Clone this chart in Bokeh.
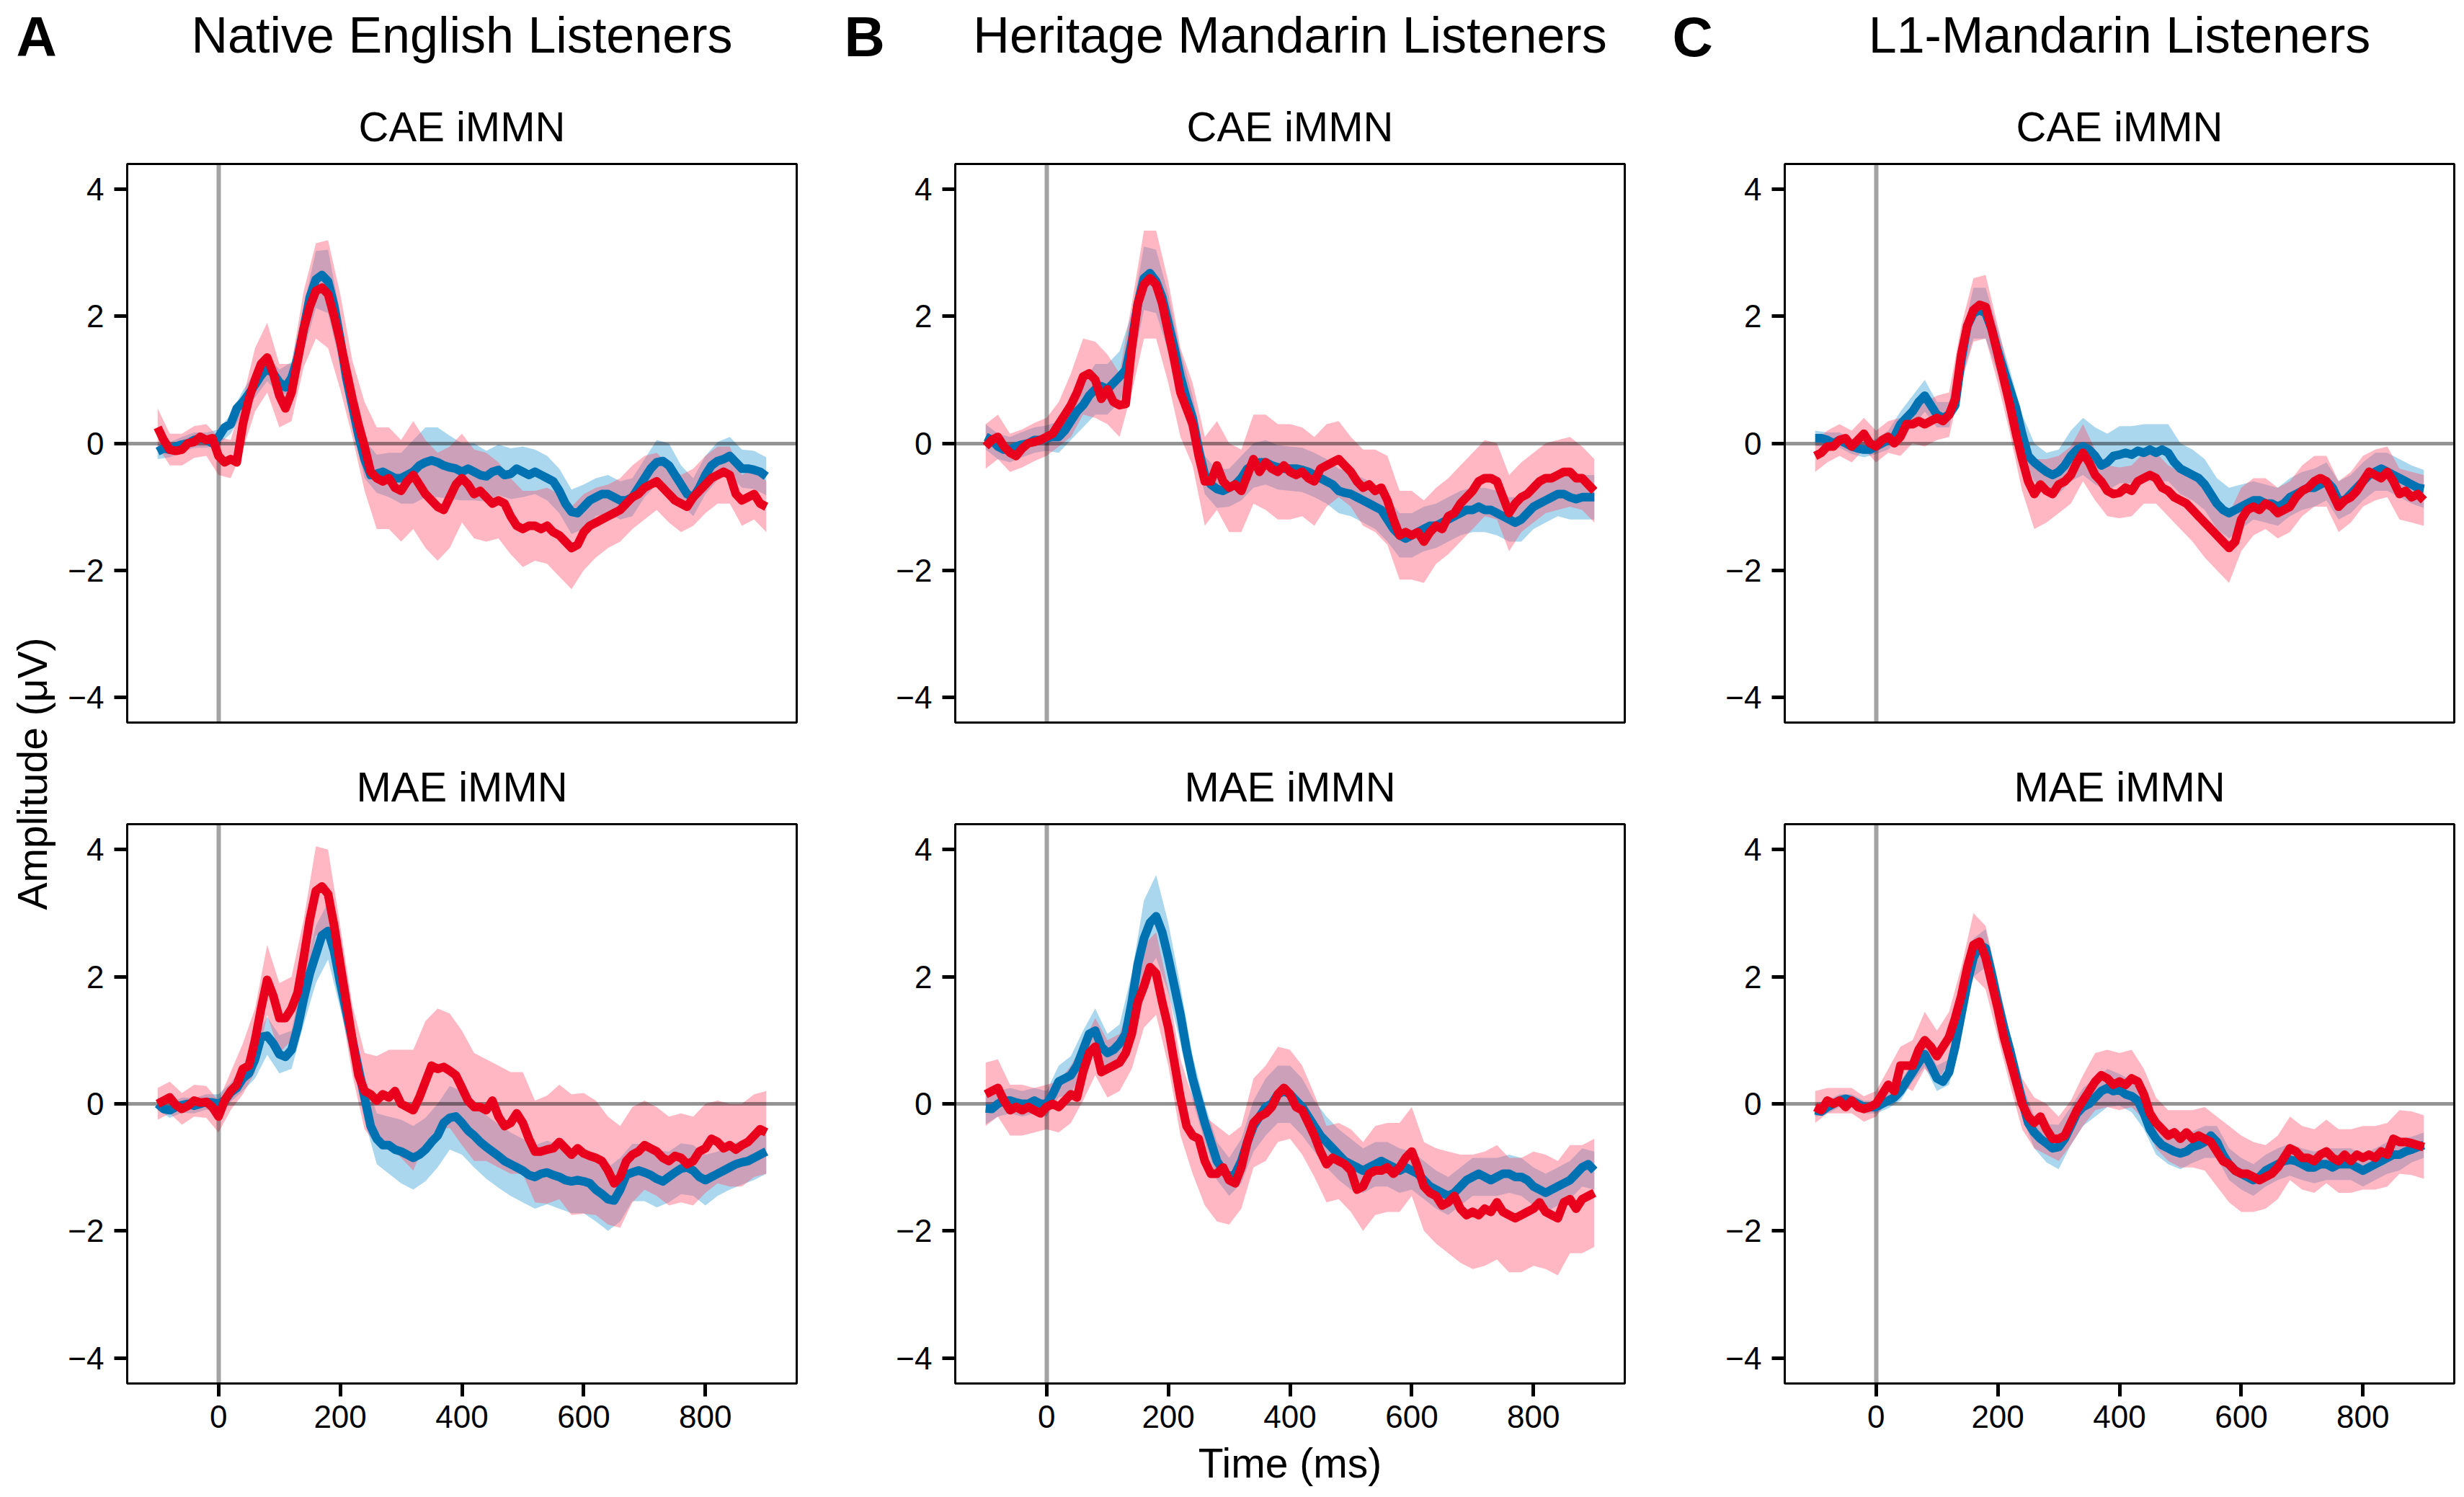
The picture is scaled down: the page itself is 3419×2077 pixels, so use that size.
import math
from bokeh.plotting import figure
from bokeh.models import Range1d, FixedTicker, CustomJSTickFormatter
from bokeh.layouts import row, column
from bokeh.core.properties import value
from bokeh.embed import file_html
from bokeh.resources import INLINE

# ---------------------------------------------------------------- data
# Grand-average iMMN difference waves (µV), sampled every 10 ms
TIME = list(range(-100, 901, 10))
# standard errors, sampled every 20 ms
TIME_SE = list(range(-100, 901, 20))

GROUPS = ["Native English Listeners", "Heritage Mandarin Listeners", "L1-Mandarin Listeners"]
LETTERS = ["A", "B", "C"]
CONDITIONS = ["CAE iMMN", "MAE iMMN"]
X_TICKS = [0, 200, 400, 600, 800]
Y_TICKS = [-4, -2, 0, 2, 4]

# Native English, CAE
eng_cae_blue = [
    -0.13, -0.08, -0.1, -0.05, -0.02, 0.0, 0.05, 0.08, 0.05, 0.0,
    0.1, 0.25, 0.3, 0.55, 0.65, 0.78, 0.92, 1.07, 1.18, 1.1,
    0.96, 0.88, 1.03, 1.34, 1.8, 2.3, 2.58, 2.65, 2.55, 2.17,
    1.64, 1.03, 0.58, 0.13, -0.25, -0.5, -0.48, -0.45, -0.5, -0.55,
    -0.55, -0.5, -0.45, -0.35, -0.3, -0.27, -0.3, -0.35, -0.38, -0.4,
    -0.45, -0.4, -0.45, -0.5, -0.52, -0.45, -0.42, -0.5, -0.48, -0.4,
    -0.45, -0.5, -0.45, -0.5, -0.55, -0.6, -0.75, -0.95, -1.08, -1.1,
    -1.0, -0.9, -0.85, -0.8, -0.8, -0.85, -0.9, -0.9, -0.85, -0.7,
    -0.55, -0.4, -0.3, -0.28, -0.35, -0.5, -0.65, -0.8, -0.85, -0.7,
    -0.5, -0.35, -0.28, -0.25, -0.2, -0.3, -0.4, -0.4, -0.42, -0.45,
    -0.52]
eng_cae_blue_se = [
    0.12, 0.12, 0.12, 0.12, 0.12, 0.12, 0.15, 0.18, 0.2, 0.2,
    0.2, 0.25, 0.35, 0.45, 0.5, 0.4, 0.35, 0.3, 0.3, 0.35,
    0.4, 0.5, 0.55, 0.55, 0.5, 0.45, 0.45, 0.4, 0.4, 0.4,
    0.4, 0.35, 0.35, 0.35, 0.35, 0.35, 0.3, 0.3, 0.3, 0.3,
    0.3, 0.35, 0.35, 0.3, 0.3, 0.3, 0.3, 0.3, 0.3, 0.3,
    0.3]
eng_cae_red = [
    0.25, 0.05, -0.1, -0.12, -0.1, 0.0, 0.02, 0.1, 0.05, 0.08,
    -0.2, -0.3, -0.25, -0.3, 0.3, 0.7, 1.0, 1.25, 1.35, 1.1,
    0.75, 0.55, 0.8, 1.3, 1.8, 2.15, 2.4, 2.45, 2.35, 2.0,
    1.6, 1.15, 0.7, 0.3, -0.05, -0.45, -0.55, -0.6, -0.55, -0.7,
    -0.75, -0.6, -0.5, -0.65, -0.8, -0.9, -1.0, -1.05, -0.85, -0.65,
    -0.55, -0.65, -0.8, -0.75, -0.85, -0.95, -0.9, -0.95, -1.15, -1.3,
    -1.35, -1.3, -1.3, -1.35, -1.3, -1.4, -1.45, -1.55, -1.65, -1.6,
    -1.4, -1.3, -1.25, -1.2, -1.15, -1.1, -1.05, -0.95, -0.85, -0.8,
    -0.7, -0.65, -0.6, -0.7, -0.8, -0.9, -0.95, -1.0, -0.85, -0.75,
    -0.65, -0.55, -0.5, -0.45, -0.5, -0.8, -0.9, -0.85, -0.8, -0.95,
    -1.0]
eng_cae_red_se = [
    0.3, 0.25, 0.25, 0.25, 0.25, 0.3, 0.3, 0.4, 0.5, 0.55,
    0.5, 0.45, 0.6, 0.75, 0.85, 0.75, 0.6, 0.7, 0.8, 0.8,
    0.8, 0.85, 0.85, 0.85, 0.8, 0.7, 0.7, 0.7, 0.6, 0.6,
    0.6, 0.55, 0.6, 0.65, 0.65, 0.6, 0.55, 0.5, 0.5, 0.5,
    0.5, 0.45, 0.45, 0.45, 0.45, 0.45, 0.45, 0.45, 0.4, 0.4,
    0.4]

# Native English, MAE
eng_mae_blue = [
    0.0, -0.08, -0.1, -0.05, -0.02, 0.0, -0.03, 0.0, 0.03, 0.02,
    0.0, 0.05, 0.18, 0.25, 0.4, 0.48, 0.7, 1.05, 1.07, 0.95,
    0.78, 0.74, 0.85, 1.2, 1.65, 2.05, 2.35, 2.65, 2.72, 2.4,
    1.9, 1.45, 1.0, 0.55, 0.1, -0.35, -0.55, -0.65, -0.65, -0.72,
    -0.75, -0.8, -0.85, -0.8, -0.72, -0.6, -0.5, -0.3, -0.22, -0.2,
    -0.3, -0.42, -0.5, -0.6, -0.68, -0.75, -0.82, -0.9, -0.95, -1.0,
    -1.05, -1.12, -1.15, -1.1, -1.08, -1.12, -1.15, -1.2, -1.22, -1.2,
    -1.22, -1.25, -1.35, -1.42, -1.5, -1.52, -1.35, -1.12, -1.08, -1.05,
    -1.08, -1.12, -1.18, -1.22, -1.15, -1.08, -1.02, -1.0, -1.05, -1.15,
    -1.2, -1.15, -1.1, -1.05, -1.0, -0.95, -0.92, -0.9, -0.85, -0.8,
    -0.75]
eng_mae_blue_se = [
    0.1, 0.12, 0.12, 0.12, 0.12, 0.15, 0.15, 0.2, 0.3, 0.3,
    0.3, 0.3, 0.4, 0.45, 0.45, 0.4, 0.35, 0.35, 0.4, 0.45,
    0.5, 0.5, 0.5, 0.5, 0.5, 0.5, 0.5, 0.5, 0.5, 0.5,
    0.5, 0.5, 0.5, 0.5, 0.5, 0.5, 0.5, 0.5, 0.5, 0.45,
    0.45, 0.45, 0.4, 0.4, 0.4, 0.4, 0.35, 0.35, 0.35, 0.35,
    0.35]
eng_mae_red = [
    0.0, 0.05, 0.1, -0.02, -0.08, -0.03, 0.05, 0.02, 0.03, -0.05,
    -0.2, 0.05, 0.2, 0.3, 0.55, 0.6, 1.0, 1.5, 1.95, 1.7,
    1.35, 1.35, 1.5, 1.75, 2.3, 2.9, 3.35, 3.42, 3.3, 2.8,
    2.2, 1.6, 1.0, 0.45, 0.2, 0.15, 0.05, 0.15, 0.1, 0.2,
    0.0, -0.05, -0.1, 0.1, 0.35, 0.6, 0.55, 0.58, 0.52, 0.45,
    0.25, 0.05, -0.05, -0.05, -0.1, 0.05, -0.2, -0.35, -0.3, -0.15,
    -0.3, -0.55, -0.75, -0.75, -0.72, -0.7, -0.6, -0.7, -0.8, -0.7,
    -0.78, -0.82, -0.85, -0.9, -1.05, -1.25, -1.15, -0.9, -0.8, -0.75,
    -0.65, -0.7, -0.75, -0.85, -0.9, -0.82, -0.85, -0.95, -0.9, -0.75,
    -0.7, -0.55, -0.6, -0.7, -0.65, -0.72, -0.65, -0.6, -0.5, -0.4,
    -0.45]
eng_mae_red_se = [
    0.25, 0.25, 0.25, 0.25, 0.25, 0.25, 0.3, 0.4, 0.5, 0.55,
    0.55, 0.5, 0.6, 0.7, 0.7, 0.6, 0.55, 0.6, 0.7, 0.75,
    0.85, 0.95, 0.95, 0.95, 0.9, 0.9, 0.85, 0.8, 0.8, 0.8,
    0.8, 0.8, 0.85, 0.9, 0.95, 0.95, 0.9, 0.85, 0.8, 0.75,
    0.7, 0.7, 0.7, 0.7, 0.7, 0.7, 0.65, 0.65, 0.65, 0.65,
    0.65]

# Heritage Mandarin, CAE
her_cae_blue = [
    0.1, 0.05, -0.05, -0.1, -0.1, -0.05, -0.02, 0.0, 0.05, 0.05,
    0.08, 0.1, 0.1, 0.2, 0.35, 0.5, 0.6, 0.75, 0.85, 0.9,
    0.85, 0.95, 1.05, 1.15, 1.6, 2.2, 2.6, 2.68, 2.55, 2.3,
    1.9, 1.5, 1.05, 0.7, 0.4, -0.1, -0.5, -0.65, -0.72, -0.75,
    -0.7, -0.65, -0.55, -0.4, -0.35, -0.3, -0.3, -0.35, -0.38, -0.4,
    -0.4, -0.4, -0.42, -0.45, -0.5, -0.55, -0.6, -0.65, -0.75, -0.78,
    -0.8, -0.85, -0.9, -0.95, -1.0, -1.05, -1.2, -1.35, -1.45, -1.5,
    -1.45, -1.4, -1.35, -1.3, -1.3, -1.25, -1.2, -1.15, -1.1, -1.05,
    -1.05, -1.0, -1.05, -1.05, -1.1, -1.15, -1.2, -1.25, -1.2, -1.1,
    -1.0, -0.95, -0.9, -0.85, -0.8, -0.8, -0.85, -0.88, -0.85, -0.85,
    -0.85]
her_cae_blue_se = [
    0.2, 0.2, 0.2, 0.2, 0.2, 0.2, 0.25, 0.3, 0.35, 0.4,
    0.4, 0.4, 0.45, 0.5, 0.5, 0.45, 0.4, 0.35, 0.3, 0.3,
    0.3, 0.35, 0.35, 0.35, 0.35, 0.35, 0.35, 0.35, 0.35, 0.35,
    0.35, 0.35, 0.35, 0.35, 0.35, 0.35, 0.35, 0.35, 0.35, 0.35,
    0.35, 0.35, 0.35, 0.35, 0.35, 0.35, 0.35, 0.35, 0.35, 0.35,
    0.35]
her_cae_red = [
    -0.05, 0.05, 0.1, -0.05, -0.15, -0.2, -0.08, 0.0, 0.02, 0.05,
    0.1, 0.15, 0.3, 0.45, 0.6, 0.8, 1.05, 1.1, 1.0, 0.7,
    0.85, 0.65, 0.6, 0.62, 1.5, 2.2, 2.5, 2.6, 2.5, 2.2,
    1.75, 1.3, 0.8, 0.55, 0.3, -0.2, -0.6, -0.6, -0.35, -0.6,
    -0.7, -0.65, -0.75, -0.5, -0.25, -0.45, -0.3, -0.4, -0.45, -0.35,
    -0.45, -0.5, -0.45, -0.55, -0.6, -0.4, -0.35, -0.3, -0.25, -0.35,
    -0.45, -0.6, -0.7, -0.65, -0.75, -0.7, -0.9, -1.2, -1.45, -1.4,
    -1.45, -1.4, -1.55, -1.4, -1.3, -1.35, -1.15, -1.1, -0.95, -0.85,
    -0.75, -0.6, -0.55, -0.55, -0.6, -0.85, -1.1, -0.95, -0.85, -0.8,
    -0.7, -0.6, -0.55, -0.55, -0.5, -0.45, -0.45, -0.55, -0.55, -0.65,
    -0.75]
her_cae_red_se = [
    0.35, 0.35, 0.3, 0.3, 0.3, 0.3, 0.35, 0.5, 0.6, 0.6,
    0.55, 0.5, 0.7, 0.85, 0.85, 0.8, 0.7, 0.65, 0.7, 0.7,
    0.7, 0.65, 0.7, 0.75, 0.75, 0.75, 0.7, 0.7, 0.65, 0.6,
    0.55, 0.6, 0.65, 0.7, 0.7, 0.7, 0.65, 0.6, 0.6, 0.6,
    0.6, 0.6, 0.6, 0.6, 0.55, 0.55, 0.55, 0.55, 0.55, 0.5,
    0.5]

# Heritage Mandarin, MAE
her_mae_blue = [
    -0.07, -0.08, 0.0, 0.05, 0.05, 0.02, 0.0, 0.0, 0.05, 0.0,
    0.0, 0.15, 0.35, 0.4, 0.45, 0.6, 0.85, 1.1, 1.15, 0.9,
    0.8, 0.85, 0.95, 1.1, 1.6, 2.2, 2.6, 2.85, 2.95, 2.7,
    2.3, 1.85, 1.4, 0.85, 0.4, 0.05, -0.3, -0.6, -0.9, -1.05,
    -1.15, -1.1, -0.9, -0.6, -0.35, -0.2, -0.05, 0.0, 0.15, 0.2,
    0.15, 0.05, -0.05, -0.2, -0.35, -0.5, -0.6, -0.7, -0.8, -0.9,
    -0.95, -1.0, -1.05, -1.0, -0.95, -0.9, -0.95, -1.0, -1.05, -1.0,
    -1.05, -1.1, -1.2, -1.3, -1.35, -1.4, -1.45, -1.4, -1.3, -1.2,
    -1.15, -1.1, -1.15, -1.2, -1.15, -1.1, -1.1, -1.15, -1.15, -1.2,
    -1.3, -1.35, -1.4, -1.35, -1.3, -1.25, -1.2, -1.1, -1.0, -0.95,
    -1.05]
her_mae_blue_se = [
    0.25, 0.2, 0.2, 0.2, 0.2, 0.2, 0.25, 0.3, 0.3, 0.35,
    0.3, 0.3, 0.45, 0.6, 0.65, 0.55, 0.45, 0.35, 0.3, 0.3,
    0.3, 0.35, 0.4, 0.45, 0.45, 0.45, 0.45, 0.4, 0.4, 0.4,
    0.4, 0.35, 0.35, 0.35, 0.35, 0.3, 0.3, 0.3, 0.3, 0.3,
    0.3, 0.3, 0.3, 0.3, 0.3, 0.3, 0.3, 0.3, 0.3, 0.3,
    0.3]
her_mae_red = [
    0.15, 0.2, 0.25, 0.05, -0.1, -0.05, -0.1, -0.05, -0.1, -0.15,
    -0.05, 0.0, -0.05, 0.05, 0.15, 0.1, 0.5, 0.8, 0.9, 0.5,
    0.55, 0.6, 0.65, 0.8, 1.1, 1.6, 1.85, 2.15, 2.05, 1.6,
    1.2, 0.65, 0.1, -0.35, -0.5, -0.55, -0.9, -1.1, -1.1, -1.0,
    -1.2, -1.25, -1.0, -0.6, -0.3, -0.2, -0.15, -0.05, 0.15, 0.25,
    0.15, -0.05, -0.1, -0.3, -0.5, -0.75, -0.95, -0.85, -0.9, -0.95,
    -1.05, -1.35, -1.3, -1.1, -1.05, -1.05, -1.0, -1.1, -1.0, -0.85,
    -0.75, -1.0, -1.3, -1.4, -1.45, -1.6, -1.55, -1.45, -1.65, -1.75,
    -1.7, -1.75, -1.65, -1.7, -1.55, -1.7, -1.75, -1.8, -1.75, -1.7,
    -1.65, -1.55, -1.7, -1.75, -1.8, -1.55, -1.5, -1.65, -1.5, -1.45,
    -1.4]
her_mae_red_se = [
    0.5, 0.45, 0.4, 0.4, 0.35, 0.35, 0.4, 0.45, 0.45, 0.45,
    0.45, 0.45, 0.55, 0.65, 0.65, 0.6, 0.6, 0.6, 0.7, 0.75,
    0.7, 0.65, 0.7, 0.75, 0.75, 0.7, 0.7, 0.65, 0.6, 0.6,
    0.65, 0.7, 0.7, 0.7, 0.7, 0.7, 0.7, 0.75, 0.8, 0.85,
    0.9, 0.9, 0.9, 0.9, 0.9, 0.9, 0.9, 0.9, 0.85, 0.85,
    0.85]

# L1 Mandarin, CAE
l1_cae_blue = [
    0.08, 0.08, 0.05, 0.0, 0.05, 0.0, -0.05, -0.08, -0.1, -0.1,
    -0.05, 0.0, 0.05, 0.1, 0.3, 0.4, 0.5, 0.65, 0.75, 0.6,
    0.45, 0.4, 0.45, 0.6, 1.3, 1.85, 2.05, 2.1, 2.05, 1.8,
    1.45, 1.15, 0.85, 0.55, 0.15, -0.2, -0.3, -0.38, -0.45, -0.5,
    -0.45, -0.35, -0.2, -0.1, -0.05, -0.1, -0.2, -0.35, -0.3, -0.2,
    -0.18, -0.15, -0.18, -0.12, -0.15, -0.1, -0.15, -0.1, -0.15, -0.3,
    -0.4, -0.45, -0.5, -0.55, -0.65, -0.8, -0.95, -1.05, -1.1, -1.05,
    -1.0, -0.95, -0.9, -0.9, -0.95, -0.95, -1.0, -0.95, -0.85, -0.8,
    -0.75, -0.7, -0.7, -0.65, -0.6, -0.7, -0.9, -0.9, -0.8, -0.7,
    -0.6, -0.5, -0.45, -0.4, -0.45, -0.5, -0.55, -0.6, -0.65, -0.7,
    -0.72]
l1_cae_blue_se = [
    0.12, 0.12, 0.12, 0.12, 0.12, 0.12, 0.15, 0.2, 0.25, 0.25,
    0.2, 0.2, 0.3, 0.4, 0.4, 0.35, 0.3, 0.3, 0.3, 0.3,
    0.35, 0.4, 0.45, 0.45, 0.45, 0.45, 0.45, 0.45, 0.45, 0.45,
    0.4, 0.4, 0.4, 0.4, 0.4, 0.35, 0.3, 0.3, 0.3, 0.3,
    0.3, 0.3, 0.3, 0.3, 0.3, 0.3, 0.3, 0.3, 0.3, 0.3,
    0.3]
l1_cae_red = [
    -0.2, -0.15, -0.05, -0.05, 0.05, 0.08, -0.05, 0.05, 0.15, 0.0,
    -0.05, 0.05, 0.1, 0.0, 0.1, 0.3, 0.3, 0.35, 0.3, 0.35,
    0.4, 0.35, 0.45, 0.7, 1.4, 1.85, 2.1, 2.18, 2.15, 1.8,
    1.4, 1.0, 0.6, 0.15, -0.25, -0.6, -0.8, -0.65, -0.75, -0.8,
    -0.65, -0.6, -0.5, -0.3, -0.15, -0.3, -0.5, -0.6, -0.75, -0.8,
    -0.78, -0.7, -0.75, -0.6, -0.55, -0.5, -0.55, -0.7, -0.75, -0.85,
    -0.9, -0.95, -1.05, -1.15, -1.25, -1.35, -1.45, -1.55, -1.65, -1.55,
    -1.2, -1.05, -1.0, -1.05, -0.95, -1.0, -1.1, -1.05, -1.0, -0.85,
    -0.75, -0.7, -0.6, -0.55, -0.6, -0.8, -1.0, -0.9, -0.85, -0.75,
    -0.6, -0.45, -0.5, -0.55, -0.45, -0.6, -0.8, -0.75, -0.85, -0.8,
    -0.9]
l1_cae_red_se = [
    0.25, 0.25, 0.25, 0.25, 0.25, 0.25, 0.25, 0.3, 0.3, 0.35,
    0.35, 0.35, 0.45, 0.5, 0.5, 0.45, 0.45, 0.5, 0.55, 0.5,
    0.45, 0.45, 0.45, 0.4, 0.4, 0.4, 0.4, 0.4, 0.4, 0.4,
    0.45, 0.5, 0.55, 0.55, 0.55, 0.5, 0.45, 0.4, 0.4, 0.4,
    0.4, 0.4, 0.4, 0.4, 0.4, 0.4, 0.4, 0.4, 0.4, 0.4,
    0.4]

# L1 Mandarin, MAE
l1_mae_blue = [
    -0.1, -0.12, -0.05, 0.0, 0.05, 0.08, 0.05, 0.0, -0.05, -0.05,
    -0.05, 0.0, 0.05, 0.1, 0.2, 0.35, 0.5, 0.65, 0.78, 0.6,
    0.4, 0.35, 0.5, 0.9, 1.4, 1.9, 2.3, 2.5, 2.45, 2.05,
    1.6, 1.2, 0.85, 0.45, 0.05, -0.3, -0.45, -0.55, -0.62, -0.7,
    -0.68, -0.55, -0.35, -0.15, -0.05, 0.0, 0.1, 0.2, 0.25, 0.2,
    0.22, 0.15, 0.12, 0.05, -0.15, -0.4, -0.55, -0.65, -0.7, -0.75,
    -0.78, -0.75, -0.68, -0.65, -0.6, -0.5, -0.6, -0.8, -0.95, -1.05,
    -1.1, -1.15, -1.2, -1.15, -1.05, -1.0, -0.95, -0.9, -0.88, -0.9,
    -0.95, -1.0, -1.0, -0.95, -0.95, -1.0, -0.95, -0.95, -0.95, -1.0,
    -1.05, -1.0, -0.95, -0.9, -0.85, -0.8, -0.8, -0.75, -0.72, -0.68,
    -0.65]
l1_mae_blue_se = [
    0.1, 0.1, 0.1, 0.1, 0.1, 0.1, 0.12, 0.15, 0.15, 0.2,
    0.2, 0.2, 0.25, 0.3, 0.3, 0.3, 0.25, 0.25, 0.25, 0.3,
    0.35, 0.3, 0.3, 0.3, 0.3, 0.25, 0.25, 0.25, 0.25, 0.25,
    0.25, 0.25, 0.25, 0.25, 0.25, 0.25, 0.25, 0.25, 0.25, 0.25,
    0.25, 0.25, 0.25, 0.25, 0.25, 0.25, 0.25, 0.25, 0.25, 0.2,
    0.2]
l1_mae_red = [
    -0.05, -0.1, 0.05, 0.0, 0.05, -0.05, 0.05, -0.05, -0.08, -0.05,
    0.0, 0.15, 0.3, 0.2, 0.6, 0.6, 0.6, 0.85, 1.0, 0.9,
    0.75, 0.9, 1.05, 1.35, 1.7, 2.15, 2.5, 2.55, 2.3, 1.9,
    1.5, 1.05, 0.7, 0.35, 0.0, -0.2, -0.3, -0.2, -0.4, -0.55,
    -0.55, -0.5, -0.3, -0.1, 0.05, 0.2, 0.35, 0.45, 0.4, 0.3,
    0.35, 0.3, 0.4, 0.35, 0.15, -0.15, -0.3, -0.4, -0.5, -0.45,
    -0.55, -0.45, -0.55, -0.5, -0.55, -0.6, -0.75, -0.9, -0.95, -1.05,
    -1.1, -1.1, -1.15, -1.2, -1.15, -1.1, -1.0, -0.85, -0.7, -0.75,
    -0.85, -0.85, -0.9, -0.8, -0.75, -0.85, -0.9, -0.8, -0.9, -0.8,
    -0.85, -0.8, -0.85, -0.75, -0.8, -0.55, -0.6, -0.6, -0.62, -0.65,
    -0.68]
l1_mae_red_se = [
    0.25, 0.2, 0.2, 0.2, 0.2, 0.2, 0.25, 0.3, 0.4, 0.45,
    0.4, 0.4, 0.45, 0.5, 0.5, 0.45, 0.4, 0.4, 0.4, 0.4,
    0.35, 0.35, 0.4, 0.45, 0.45, 0.45, 0.45, 0.4, 0.4, 0.4,
    0.45, 0.45, 0.5, 0.55, 0.6, 0.6, 0.55, 0.5, 0.5, 0.5,
    0.5, 0.5, 0.5, 0.5, 0.5, 0.5, 0.5, 0.5, 0.5, 0.5,
    0.5]

WAVES = {
    (0, 0): (eng_cae_blue, eng_cae_blue_se, eng_cae_red, eng_cae_red_se),
    (0, 1): (eng_mae_blue, eng_mae_blue_se, eng_mae_red, eng_mae_red_se),
    (1, 0): (her_cae_blue, her_cae_blue_se, her_cae_red, her_cae_red_se),
    (1, 1): (her_mae_blue, her_mae_blue_se, her_mae_red, her_mae_red_se),
    (2, 0): (l1_cae_blue, l1_cae_blue_se, l1_cae_red, l1_cae_red_se),
    (2, 1): (l1_mae_blue, l1_mae_blue_se, l1_mae_red, l1_mae_red_se),
}

# ---------------------------------------------------------------- style
FONT = "Liberation Sans"
BLUE = "#0072B2"
RED = "#E8001C"
BLUE_RIBBON = "#2B9BD2"
RED_RIBBON = "#FF4D6A"

TOTAL_W, TOTAL_H = 3419, 2077
HEADER_H = 110
YLAB_W = 90
FRAME_W = 929
FRAME_H = [775, 776]
# borders (left, right) for each column, (top, bottom) for each row
COL_BORDERS = [(86, 110), (110, 111), (111, 14)]
ROW_BORDERS = [(117, 28), (113, 158)]

minus_fmt = CustomJSTickFormatter(
    code="return tick < 0 ? '\\u2212' + Math.abs(tick) : String(tick);")


def make_panel(gi, ci):
    blue, blue_se, red, red_se = WAVES[(gi, ci)]
    left, right = COL_BORDERS[gi]
    top, bottom = ROW_BORDERS[ci]
    p = figure(frame_width=FRAME_W, frame_height=FRAME_H[ci],
               x_range=Range1d(-150, 950), y_range=Range1d(-4.4, 4.4),
               output_backend="svg", toolbar_location=None,
               min_border_left=left, min_border_right=right,
               min_border_top=top, min_border_bottom=bottom,
               background_fill_color="white", border_fill_color="white")
    p.xgrid.visible = False
    p.ygrid.visible = False
    p.outline_line_color = "black"
    p.outline_line_width = 3
    p.outline_line_alpha = 1.0

    p.title.text = CONDITIONS[ci]
    p.title.align = "center"
    p.title.text_font = FONT
    p.title.text_font_size = "58px"
    p.title.text_font_style = "normal"
    p.title.text_color = "black"
    p.title.standoff = 40

    # ribbons (mean +/- SE)
    bmid = blue[::2]
    rmid = red[::2]
    p.varea(x=TIME_SE, y1=[m - s for m, s in zip(bmid, blue_se)],
            y2=[m + s for m, s in zip(bmid, blue_se)],
            fill_color=BLUE_RIBBON, fill_alpha=0.4)
    p.varea(x=TIME_SE, y1=[m - s for m, s in zip(rmid, red_se)],
            y2=[m + s for m, s in zip(rmid, red_se)],
            fill_color=RED_RIBBON, fill_alpha=0.4)

    # reference lines at 0 µV and stimulus onset
    p.hspan(y=[0], line_color="black", line_alpha=0.42, line_width=5)
    p.vspan(x=[0], line_color="black", line_alpha=0.36, line_width=6)

    p.line(TIME, blue, line_color=BLUE, line_width=12, line_join="round")
    p.line(TIME, red, line_color=RED, line_width=12, line_join="round")

    for ax in p.yaxis:
        ax.ticker = FixedTicker(ticks=Y_TICKS)
        ax.formatter = minus_fmt
        ax.axis_line_color = None
        ax.major_tick_out = 18
        ax.major_tick_in = 0
        ax.major_tick_line_width = 5
        ax.major_tick_line_color = "black"
        ax.minor_tick_line_color = None
        ax.major_label_standoff = 14
        ax.major_label_text_font = FONT
        ax.major_label_text_font_size = "44px"
        ax.major_label_text_color = "black"

    if ci == 0:
        p.xaxis.visible = False
    else:
        for ax in p.xaxis:
            ax.ticker = FixedTicker(ticks=X_TICKS)
            ax.axis_line_color = None
            ax.major_tick_out = 18
            ax.major_tick_in = 0
            ax.major_tick_line_width = 5
            ax.major_tick_line_color = "black"
            ax.minor_tick_line_color = None
            ax.major_label_standoff = 12
            ax.major_label_text_font = FONT
            ax.major_label_text_font_size = "44px"
            ax.major_label_text_color = "black"
            if gi == 1:
                ax.axis_label = "Time (ms)"
                ax.axis_label_text_font = FONT
                ax.axis_label_text_font_size = "57px"
                ax.axis_label_text_font_style = "normal"
                ax.axis_label_text_color = "black"
                ax.axis_label_standoff = 14
    return p


def bare(w, h, xr, yr):
    p = figure(frame_width=w, frame_height=h, x_range=xr, y_range=yr,
               output_backend="svg", toolbar_location=None,
               min_border_left=0, min_border_right=0,
               min_border_top=0, min_border_bottom=0,
               background_fill_color="white", border_fill_color="white")
    p.axis.visible = False
    p.xgrid.visible = False
    p.ygrid.visible = False
    p.outline_line_color = None
    return p


# header: panel letters and group names (pixel coordinates, measured from the top)
header = bare(TOTAL_W, HEADER_H, Range1d(0, TOTAL_W), Range1d(HEADER_H, 0))
col_lefts = []
x0 = YLAB_W
for left, right in COL_BORDERS:
    col_lefts.append(x0 + left)
    x0 += left + FRAME_W + right
centers = [cl + FRAME_W / 2 for cl in col_lefts]
letter_x = [22, col_lefts[1] - 154, col_lefts[2] - 156]
header.text(x=centers, y=[48] * 3, text=GROUPS, text_font=value(FONT),
            text_font_size=value("70px"), text_align="center",
            text_baseline="middle", text_color="black")
header.text(x=letter_x, y=[50] * 3, text=LETTERS, text_font=value(FONT),
            text_font_size=value("78px"), text_font_style="bold",
            text_align="left", text_baseline="middle", text_color="black")

# shared y-axis title
body_h = TOTAL_H - HEADER_H
ylab = bare(YLAB_W, body_h, Range1d(0, YLAB_W), Range1d(TOTAL_H, HEADER_H))
ylab.text(x=[44], y=[1073], text=["Amplitude (\u03bcV)"], angle=math.pi / 2,
          text_font=value(FONT), text_font_size=value("57px"),
          text_align="center", text_baseline="middle", text_color="black")

rows = []
for ci in range(2):
    rows.append(row([make_panel(gi, ci) for gi in range(3)], spacing=0))

layout = column([header, row([ylab, column(rows, spacing=0)], spacing=0)], spacing=0)

open("out.html", "w").write(file_html(layout, INLINE))
